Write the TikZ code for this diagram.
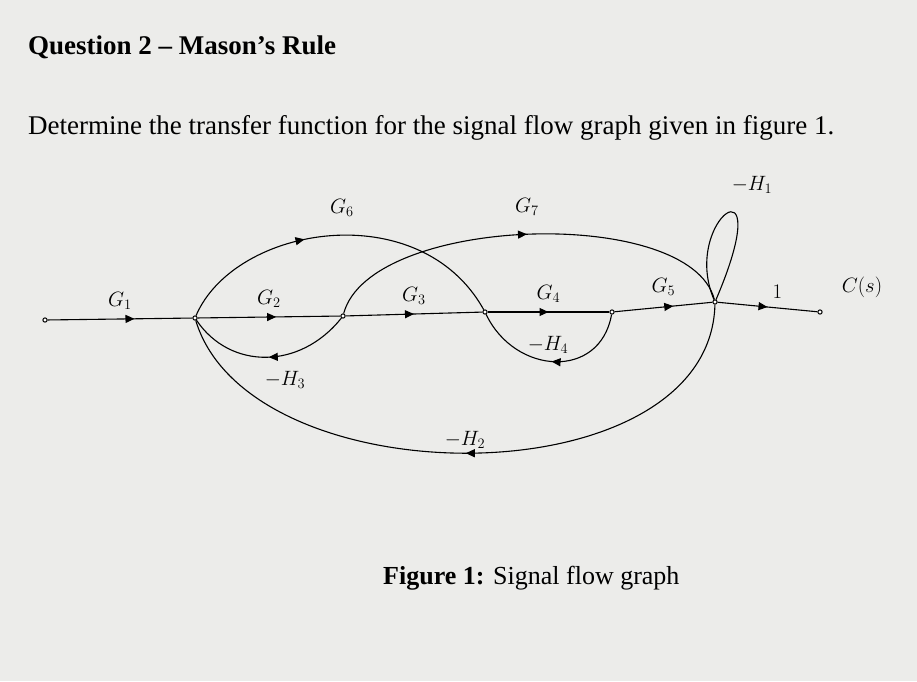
\documentclass[tikz,border=0pt]{standalone}
\usepackage{fontspec}
\setmainfont{Liberation Serif}
\usetikzlibrary{decorations.markings,arrows.meta}
\definecolor{bg}{RGB}{236,236,234}
\tikzset{
  nd/.style={circle,draw,fill=white,inner sep=1.5pt,line width=1pt},
  br/.style={line width=1.1pt},
  mk/.style={postaction={decorate},decoration={markings,mark=at position #1 with {\arrow{Triangle[length=9pt,width=8pt]}}}},
  lb/.style={font=\fontsize{20}{24}\selectfont}
}
\begin{document}
\begin{tikzpicture}[x=1pt,y=-1pt]
\fill[bg] (0,0) rectangle (917,681);
\useasboundingbox (0,0) rectangle (917,681);
\node[anchor=west,font=\bfseries\fontsize{27}{31}\selectfont,inner sep=0pt] (t) at (28,47) {Question 2 -- Mason's Rule};
\node[anchor=west,font=\fontsize{27}{31}\selectfont,inner sep=0pt] (d) at (28,128) {Determine the transfer function for the signal flow graph given in figure 1.};
\node[anchor=west,font=\fontsize{26}{30}\selectfont,inner sep=0pt] (f) at (383,578) {\textbf{Figure 1:} Signal flow graph};
\node[nd] (n1) at (45,320) {};
\node[nd] (n2) at (195,318) {};
\node[nd] (n3) at (343,316) {};
\node[nd] (n4) at (485,312) {};
\node[nd] (n5) at (612,312) {};
\node[nd] (n6) at (715,302) {};
\node[nd] (n7) at (820,312) {};
\draw[br,mk=0.6] (n1) -- node[lb,above=6pt]{$G_1$} (n2);
\draw[br,mk=0.55] (n2) -- node[lb,above=6pt]{$G_2$} (n3);
\draw[br,mk=0.5] (n3) -- node[lb,above=6pt]{$G_3$} (n4);
\draw[br,mk=0.5] (n4) -- node[lb,above=6pt]{$G_4$} (n5);
\draw[br,mk=0.6] (n5) -- node[lb,above=8pt]{$G_5$} (n6);
\draw[br,mk=0.5] (n6) -- node[lb,above=6pt,pos=0.6]{$1$} (n7);
\node[lb] (cs) at (862,287) {$C(s)$};
\draw[br,mk=0.4] (n2) .. controls (235,225) and (420,195) .. (n4);
\node[lb] (g6) at (342,208) {$G_6$};
\draw[br,mk=0.5] (n3) .. controls (370,215) and (690,205) .. (n6);
\node[lb] (g7) at (527,207) {$G_7$};
\draw[br,mk=0.5] (n3) .. controls (300,370) and (230,370) .. (n2);
\node[lb] (h3) at (285,380) {$-H_3$};
\draw[br,mk=0.5] (n5) .. controls (600,380) and (515,375) .. (n4);
\node[lb] (h4) at (548,345) {$-H_4$};
\draw[br,mk=0.5] (n6) .. controls (710,500) and (250,500) .. (n2);
\node[lb] (h2) at (465,440) {$-H_2$};
\draw[br] (n6) .. controls (680,220) and (780,150) .. (n6);
\node[lb] (h1) at (752,185) {$-H_1$};
\end{tikzpicture}
\end{document}
